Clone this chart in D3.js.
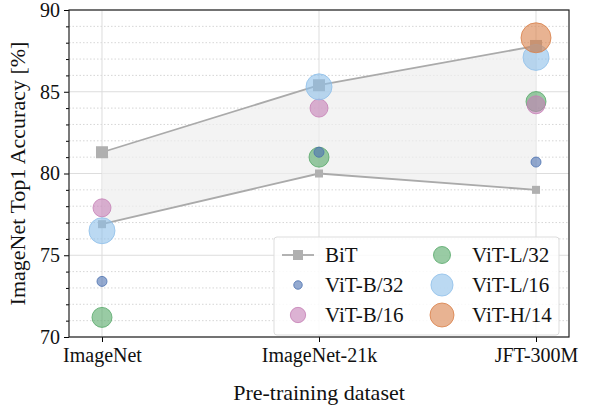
<!doctype html>
<html>
<head>
<meta charset="utf-8">
<script src="https://cdn.jsdelivr.net/npm/d3@7"></script>
<style>
  body { margin:0; background:#fff; }
  text { font-family: "Liberation Serif", serif; fill:#111; }
</style>
</head>
<body>
<svg id="chart" width="600" height="416"></svg>
<script>
// data
var datasets = ["ImageNet", "ImageNet-21k", "JFT-300M"];
var bitUpper = [81.3, 85.4, 87.8];
var bitLower = [76.9, 80.0, 79.0];
var vitB32 = [73.4, 81.3, 80.7];
var vitB16 = [77.9, 84.0, 84.2];
var vitL32 = [71.2, 81.0, 84.4];
var vitL16 = [76.5, 85.3, 87.1];
var vitH14 = [null, null, 88.3];
var yTicks = [70, 75, 80, 85, 90];

var series = [
  {name:"ViT-L/32", vals:vitL32, color:"#55a868", r:10},
  {name:"ViT-B/16", vals:vitB16, color:"#c57fb5", r:9},
  {name:"ViT-L/16", vals:vitL16, color:"#8ebfea", r:13},
  {name:"ViT-B/32", vals:vitB32, color:"#4c72b0", r:5},
  {name:"ViT-H/14", vals:vitH14, color:"#d9814a", r:15}
];

var svg = d3.select("#chart");
var L = 69, R = 569, T = 10, B = 337;
var x = d3.scalePoint().domain(datasets).range([L, R]).padding(0.152);
var y = d3.scaleLinear().domain([70, 90]).range([B, T]);

// grid
var minor = d3.range(70, 90, 1).filter(function(v){ return v % 5 != 0; });
svg.selectAll(".mg").data(minor).enter().append("line")
  .attr("x1", L).attr("x2", R).attr("y1", y).attr("y2", y)
  .attr("stroke", "#ccc").attr("stroke-dasharray", "1.5,2").attr("stroke-width", 0.8);
svg.selectAll(".Mg").data(yTicks).enter().append("line")
  .attr("x1", L).attr("x2", R).attr("y1", y).attr("y2", y)
  .attr("stroke", "#ddd").attr("stroke-width", 1);
svg.selectAll(".xg").data(datasets).enter().append("line")
  .attr("x1", x).attr("x2", x).attr("y1", T).attr("y2", B)
  .attr("stroke", "#ddd").attr("stroke-width", 1);

// BiT band
var area = d3.area().x(function(d, i){ return x(datasets[i]); })
  .y0(function(d, i){ return y(bitLower[i]); }).y1(function(d){ return y(d); });
svg.append("path").datum(bitUpper).attr("d", area).attr("fill", "#eeeeee").attr("opacity", 0.7);
var line = d3.line().x(function(d, i){ return x(datasets[i]); }).y(function(d){ return y(d); });
[bitUpper, bitLower].forEach(function(arr, k) {
  svg.append("path").datum(arr).attr("d", line).attr("fill", "none")
    .attr("stroke", "#aaa").attr("stroke-width", 1.8);
  var s = k == 0 ? 12 : 8;
  svg.selectAll(null).data(arr).enter().append("rect")
    .attr("x", function(d, i){ return x(datasets[i]) - s/2; })
    .attr("y", function(d){ return y(d) - s/2; })
    .attr("width", s).attr("height", s).attr("fill", "#b0b0b0");
});

// ViT points
series.forEach(function(s) {
  svg.selectAll(null).data(s.vals.map(function(v, i){ return {v:v, i:i}; }).filter(function(d){ return d.v != null; }))
    .enter().append("circle")
    .attr("cx", function(d){ return x(datasets[d.i]); })
    .attr("cy", function(d){ return y(d.v); })
    .attr("r", s.r).attr("fill", s.color).attr("fill-opacity", 0.6)
    .attr("stroke", s.color).attr("stroke-opacity", 0.8);
});

// axes
var ya = svg.append("g").attr("transform", "translate(" + L + ",0)")
  .call(d3.axisLeft(y).tickValues(yTicks).tickSize(5).tickPadding(4));
ya.selectAll("text").style("font-size", "20px");
svg.append("g").attr("transform", "translate(" + L + ",0)")
  .call(d3.axisLeft(y).tickValues(minor).tickSize(3).tickFormat(""));
var xa = svg.append("g").attr("transform", "translate(0," + B + ")")
  .call(d3.axisBottom(x).tickSize(5).tickPadding(6));
xa.selectAll("text").style("font-size", "20px");
svg.selectAll(".domain").remove();
svg.append("rect").attr("x", L).attr("y", T).attr("width", R - L).attr("height", B - T)
  .attr("fill", "none").attr("stroke", "#222").attr("stroke-width", 1.2);

svg.append("text").attr("x", (L + R) / 2).attr("y", 400).attr("text-anchor", "middle")
  .style("font-size", "22px").text("Pre-training dataset");
svg.append("text").attr("transform", "translate(25," + ((T + B) / 2) + ") rotate(-90)")
  .attr("text-anchor", "middle").style("font-size", "22px").text("ImageNet Top1 Accuracy [%]");

// legend
var lg = svg.append("g").attr("transform", "translate(274,237)");
lg.append("rect").attr("width", 285).attr("height", 98).attr("rx", 3)
  .attr("fill", "#fff").attr("fill-opacity", 0.85).attr("stroke", "#ddd");
var items = [
  {name:"BiT", bit:true}, series[3], series[1],
  series[0], series[2], series[4]
];
items.forEach(function(s, i) {
  var col = Math.floor(i / 3), row = i % 3;
  var cx = 24 + col * 144, cy = 18 + row * 30;
  if (s.bit) {
    lg.append("line").attr("x1", cx - 16).attr("x2", cx + 16).attr("y1", cy).attr("y2", cy)
      .attr("stroke", "#aaa").attr("stroke-width", 1.8);
    lg.append("rect").attr("x", cx - 5).attr("y", cy - 5).attr("width", 10).attr("height", 10).attr("fill", "#b0b0b0");
  } else {
    lg.append("circle").attr("cx", cx).attr("cy", cy).attr("r", Math.min(s.r * 0.85, 12))
      .attr("fill", s.color).attr("fill-opacity", 0.6).attr("stroke", s.color).attr("stroke-opacity", 0.8);
  }
  lg.append("text").attr("x", cx + 27 + (col ? 3 : 0)).attr("y", cy + 7).style("font-size", "21px").text(s.name);
});
</script>
</body>
</html>
